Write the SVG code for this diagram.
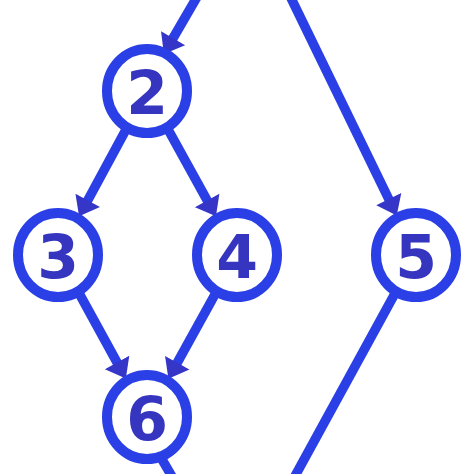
<svg xmlns="http://www.w3.org/2000/svg" width="474" height="474" viewBox="0 0 474 474">
<style>
.edge{stroke:#2a3fe6;stroke-width:9.5;fill:none;marker-end:url(#ah)}
.edge.plain{marker-end:none}
.node ellipse{fill:#ffffff;stroke:#2a3fe6;stroke-width:10}
.node text{font-family:"DejaVu Sans",sans-serif;font-weight:bold;font-size:60px;fill:#3535c0;text-anchor:middle}
</style>
<defs>
<marker id="ah" markerUnits="userSpaceOnUse" markerWidth="22" markerHeight="30" viewBox="0 -14 20 28" refX="2" refY="0" orient="auto">
<path d="M0,-13 L17,0 L0,13 z" fill="#3535c8"/>
</marker>
</defs>
<rect width="474" height="474" fill="#ffffff"/>
<g id="edges">
<line class="edge" x1="197" y1="-3" x2="172" y2="40"/>
<line class="edge" x1="125.5" y1="130.6" x2="86.7" y2="202.2"/>
<line class="edge" x1="168.6" y1="130.5" x2="208.2" y2="202.3"/>
<line class="edge" x1="290" y1="-4" x2="389.7" y2="201"/>
<line class="edge" x1="79.7" y1="294.4" x2="118.1" y2="364.4"/>
<line class="edge" x1="215.1" y1="294.3" x2="176.2" y2="364.6"/>
<line class="edge plain" x1="160" y1="456" x2="174" y2="480"/>
<line class="edge plain" x1="394.4" y1="294.5" x2="289" y2="487"/>
</g>
<g id="node2" class="node"><ellipse cx="147" cy="91" rx="40" ry="42"/><text x="147" y="114">2</text></g>
<g id="node3" class="node"><ellipse cx="58" cy="255" rx="40" ry="42"/><text x="58" y="278">3</text></g>
<g id="node4" class="node"><ellipse cx="237" cy="255" rx="40" ry="42"/><text x="237" y="278">4</text></g>
<g id="node5" class="node"><ellipse cx="416" cy="255" rx="40" ry="42"/><text x="416" y="278">5</text></g>
<g id="node6" class="node"><ellipse cx="147" cy="417" rx="40" ry="42"/><text x="147" y="440">6</text></g>
</svg>
